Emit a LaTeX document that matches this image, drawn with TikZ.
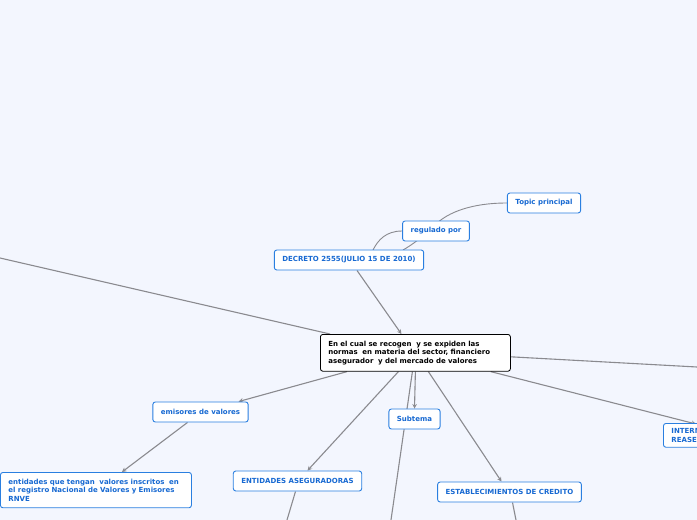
\documentclass[tikz,border=0pt]{standalone}
\usepackage{fontspec}
\setmainfont{DejaVu Sans}
\usetikzlibrary{arrows.meta}
\definecolor{bgcol}{HTML}{F3F6FE}
\definecolor{topicblue}{HTML}{2A7FE0}
\definecolor{textblue}{HTML}{1769D2}
\definecolor{linegrey}{HTML}{8A8A8F}
\pgfdeclarelayer{bg}
\pgfdeclarelayer{lines}
\pgfsetlayers{bg,lines,main}
\tikzset{
  topicbox/.style={draw=topicblue,fill=white,rounded corners=2.5pt,line width=0.9pt,
    text=textblue,font=\fontsize{7}{8.5}\selectfont\bfseries,inner xsep=8pt,inner ysep=3pt,minimum height=20pt},
  mainbox/.style={draw=black,fill=white,rounded corners=2.5pt,line width=0.8pt,
    text=black,font=\fontsize{7}{8.5}\selectfont\bfseries,align=left,inner xsep=8pt,inner ysep=6.5pt},
  branch/.style={draw=linegrey,line width=1.1pt},
  arr/.style={branch,-{Stealth[length=4.5pt,width=4.5pt]}}
}
\begin{document}
\begin{tikzpicture}[x=1pt,y=-1pt]
  \begin{pgfonlayer}{bg}
    \fill[bgcol] (0,0) rectangle (697,520);
  \end{pgfonlayer}
  \useasboundingbox (0,0) rectangle (697,520);
  \clip (0,0) rectangle (697,520);
  % nodes
  \node[mainbox,text width=174pt,anchor=north west] (main) at (320,334) {En el cual se recogen \ y se expiden las\\normas \ en materia del sector, financiero\\asegurador \ y del mercado de valores};
  \node[topicbox] (decreto) at (349,260) {DECRETO 2555(JULIO 15 DE 2010)};
  \node[topicbox] (regulado) at (436,231) {regulado por};
  \node[topicbox] (topic) at (544,203) {Topic principal};
  \node[topicbox] (emisores) at (200.5,412) {emisores de valores};
  \node[topicbox,align=left,text width=175pt,inner ysep=6.5pt,anchor=north west] (entidades) at (0,472) {entidades que tengan \ valores inscritos \ en\\el registro Nacional de Valores y Emisores\\RNVE};
  \node[topicbox] (subtema) at (414.5,419) {Subtema};
  \node[topicbox] (aseg) at (297.5,481) {ENTIDADES ASEGURADORAS};
  \node[topicbox] (credito) at (509.5,492) {ESTABLECIMIENTOS DE CREDITO};
  \node[topicbox,align=left,anchor=north west,inner ysep=5pt] (inter) at (663,423) {INTERMEDIARIOS DE\\REASEGUROS};
  % free ends outside the picture
  \coordinate (offleft) at (0,258);
  \coordinate (offright) at (697,367);
  \coordinate (offdown) at (391,520);
  \coordinate (asegdown) at (287,520);
  \coordinate (creditodown) at (516,520);
  % connectors
  \begin{pgfonlayer}{lines}
    \draw[branch] ([xshift=10pt]main.north west) -- (offleft);
    \draw[branch] ([yshift=-4pt]main.east) -- (offright);
    \draw[branch] ([xshift=-3pt]main.south) -- (offdown);
    \draw[branch] ([xshift=-2pt]aseg.south) -- (asegdown);
    \draw[branch] ([xshift=3pt]credito.south) -- (creditodown);
    \draw[arr] ([xshift=8pt]decreto.south) -- ([xshift=-14pt]main.north);
    \draw[arr] ([xshift=27pt]main.south west) -- ([xshift=-10pt]emisores.north east);
    \draw[arr] ([xshift=-13pt]emisores.south) -- ([xshift=26pt]entidades.north);
    \draw[arr] ([xshift=-17pt]main.south) -- ([xshift=10pt]aseg.north);
    \draw[arr] (main.south) -- (subtema.north);
    \draw[arr] ([xshift=13pt]main.south) -- ([xshift=-8pt]credito.north);
    \draw[arr] ([xshift=-20pt]main.south east) -- ([xshift=33pt,yshift=-1pt]inter.north west);
    \draw[branch,line width=0.9pt] (topic.west) .. controls (472,203) and (448,212) .. (435,225) .. controls (422,238) and (410,246) .. (403,250);
    \draw[branch,line width=0.9pt] (regulado.west) .. controls (386,231) and (378,240) .. (373,250);
  \end{pgfonlayer}
\end{tikzpicture}
\end{document}
